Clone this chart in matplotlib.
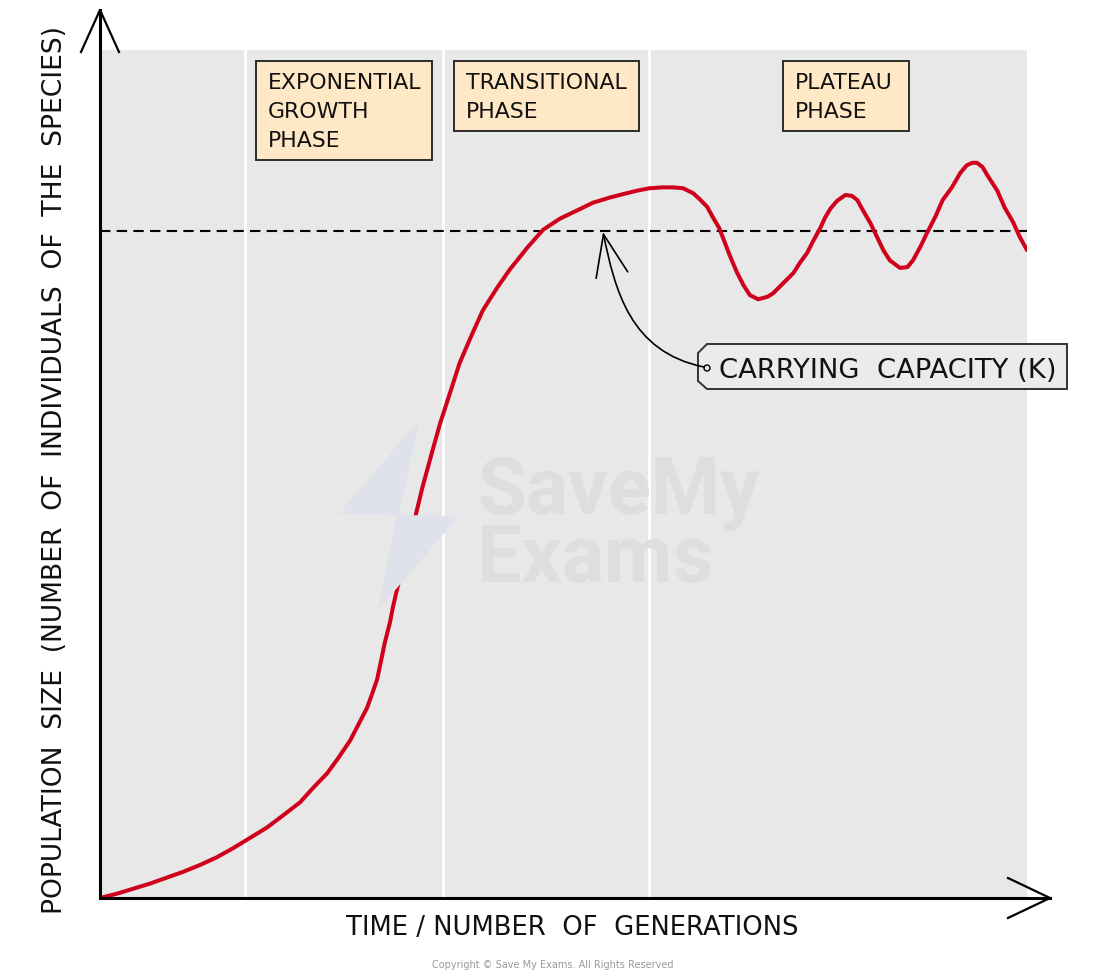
import matplotlib.pyplot as plt
from matplotlib.patches import Rectangle, Polygon, FancyArrowPatch, Circle
from matplotlib.path import Path
from matplotlib.transforms import Affine2D

# time (0-100) and population size (0-100)
time = [0.0, 1.8, 3.6, 5.4, 7.2, 9.0, 10.8, 12.6, 14.4, 16.2, 18.0, 19.7,
        21.6, 23.0, 24.5, 25.7, 27.0, 27.8, 28.8, 29.3, 29.9, 30.4, 30.7, 31.3,
        31.6, 32.7, 33.8, 34.8, 35.8, 36.7, 37.8, 38.8, 40.1, 41.3, 42.8, 44.2,
        46.1, 47.8, 49.6, 51.5, 53.2, 55.0, 56.4, 57.9, 59.3, 60.7, 61.8, 62.9,
        64.0, 64.7, 65.5, 66.1, 66.8, 68.0, 68.7, 69.4, 70.1, 71.0, 72.0, 72.6,
        73.7, 74.8, 75.5, 76.3, 76.9, 77.7, 78.2, 78.8, 79.5, 80.4, 81.1, 81.7,
        82.3, 83.1, 83.8, 84.5, 85.2, 86.3, 87.1, 87.7, 88.5, 89.2, 90.1, 90.9,
        91.9, 92.8, 93.5, 94.1, 94.6, 95.2, 95.8, 96.8, 97.6, 98.5, 99.2, 100.0]
population = [0.0, 0.5, 1.1, 1.7, 2.4, 3.1, 3.9, 4.8, 5.9, 7.1, 8.3, 9.7,
              11.3, 13.0, 14.7, 16.5, 18.6, 20.3, 22.4, 23.9, 25.8, 28.4, 30.0, 32.6,
              34.3, 39.5, 44.0, 48.5, 52.5, 56.0, 59.7, 63.1, 66.4, 69.3, 71.9, 74.1,
              76.7, 78.8, 80.1, 81.1, 82.0, 82.6, 83.0, 83.4, 83.7, 83.8, 83.8, 83.7,
              83.1, 82.4, 81.5, 80.3, 79.0, 75.6, 73.8, 72.3, 71.1, 70.6, 70.9, 71.3,
              72.5, 73.7, 74.9, 76.1, 77.4, 79.0, 80.2, 81.3, 82.2, 82.9, 82.8, 82.3,
              81.1, 79.6, 78.0, 76.4, 75.2, 74.3, 74.4, 75.2, 76.8, 78.4, 80.3, 82.3,
              83.8, 85.5, 86.4, 86.7, 86.7, 86.2, 85.1, 83.4, 81.4, 79.7, 78.0, 76.4]
carrying_capacity = 78.7
phase_edges = [15.6, 37.0, 59.2]
phase_names = [["EXPONENTIAL", "GROWTH", "PHASE"],
               ["TRANSITIONAL", "PHASE"],
               ["PLATEAU", "PHASE"]]

W, H = 1101, 980
fig = plt.figure(figsize=(W / 100, H / 100), dpi=100)
# pixel coords measured from top-left
px = Affine2D().scale(0.01, -0.01).translate(0, H / 100) + fig.dpi_scale_trans

ax = fig.add_axes([100 / W, (H - 898) / H, 927 / W, 848 / H])
ax.set_facecolor('#e8e8e8')
ax.set_xlim(0, 100)
ax.set_ylim(0, 100)
for s in ax.spines.values():
    s.set_visible(False)
ax.set_xticks([])
ax.set_yticks([])

for x in phase_edges:
    ax.axvline(x, color='white', lw=2, zorder=1)

# watermark
fig.text(477, 582, "SaveMy\nExams", transform=px, fontsize=57,
         fontweight='bold', family='Roboto', color='#dedede', va='baseline',
         linespacing=0.87, zorder=1.5)
bolt = '#dfe2ea'
fig.add_artist(Polygon([(419, 420), (339, 514), (399, 515)], closed=True,
                       transform=px, color=bolt, lw=0, zorder=1.5))
fig.add_artist(Polygon([(397, 515), (459, 516), (378, 610)], closed=True,
                       transform=px, color=bolt, lw=0, zorder=1.5))

ax.axhline(carrying_capacity, color='black', lw=1.5, ls=(0, (5, 3)), zorder=3)
ax.plot(time, population, color='#d0021b', lw=2.9, solid_capstyle='round',
        solid_joinstyle='round', zorder=4)

# axes arrows
axis_kw = dict(color='black', lw=2.2, transform=px, clip_on=False, zorder=6)
fig.add_artist(plt.Line2D([100, 100], [898, 10], **axis_kw))
fig.add_artist(plt.Line2D([81, 100, 119], [52, 10, 52], lw=1.6, color='black',
                          transform=px, clip_on=False))
fig.add_artist(plt.Line2D([100, 1050], [898, 898], **axis_kw))
fig.add_artist(plt.Line2D([1008, 1050, 1008], [878, 898, 918], lw=1.6,
                          color='black', transform=px, clip_on=False))

# phase boxes
boxes = [(256, 61, 432, 160), (454, 61, 639, 131), (783, 61, 909, 131)]
for (x0, y0, x1, y1), lines in zip(boxes, phase_names):
    fig.add_artist(Rectangle((x0, y1), x1 - x0, y0 - y1, transform=px,
                             facecolor='#ffe8c6', edgecolor='#2b2b2b', lw=1.4,
                             zorder=7))
    for i, t in enumerate(lines):
        fig.text(x0 + 12, 89 + 29 * i, t, transform=px, fontsize=15.8,
                 va='baseline', ha='left', color='#111111', zorder=8)

# carrying capacity tag
tag = [(707, 344), (1067, 344), (1067, 389), (707, 389), (698, 381), (698, 353)]
fig.add_artist(Polygon(tag, closed=True, transform=px, facecolor='#ebebeb',
                       edgecolor='#333333', lw=1.4, zorder=7))
fig.add_artist(Circle((707, 368), 3, transform=px, facecolor='none',
                      edgecolor='black', lw=1, zorder=8))
fig.text(719, 378, "CARRYING  CAPACITY (K)", transform=px, fontsize=19.7,
         va='baseline', ha='left', color='#111111', zorder=8)
arrow_path = Path([(704, 367), (630, 352), (615, 290), (603, 232)],
                  [Path.MOVETO, Path.CURVE4, Path.CURVE4, Path.CURVE4])
fig.add_artist(FancyArrowPatch(path=arrow_path, transform=px,
                               arrowstyle='->,head_length=1.5,head_width=0.58',
                               mutation_scale=20, color='black', lw=1.2,
                               zorder=8))

# axis titles
fig.text(55, 470, "POPULATION  SIZE  (NUMBER  OF  INDIVIDUALS  OF  THE  SPECIES)",
         transform=px, rotation=90, fontsize=19.1, ha='center', va='center',
         color='#111111')
fig.text(572, 928, "TIME / NUMBER  OF  GENERATIONS", transform=px,
         fontsize=18.6, ha='center', va='center', color='#111111')
fig.text(553, 965, "Copyright © Save My Exams. All Rights Reserved",
         transform=px, fontsize=7, ha='center', va='center', color='#9a9a9a')

fig.savefig('out.png', dpi=100, facecolor='white')
